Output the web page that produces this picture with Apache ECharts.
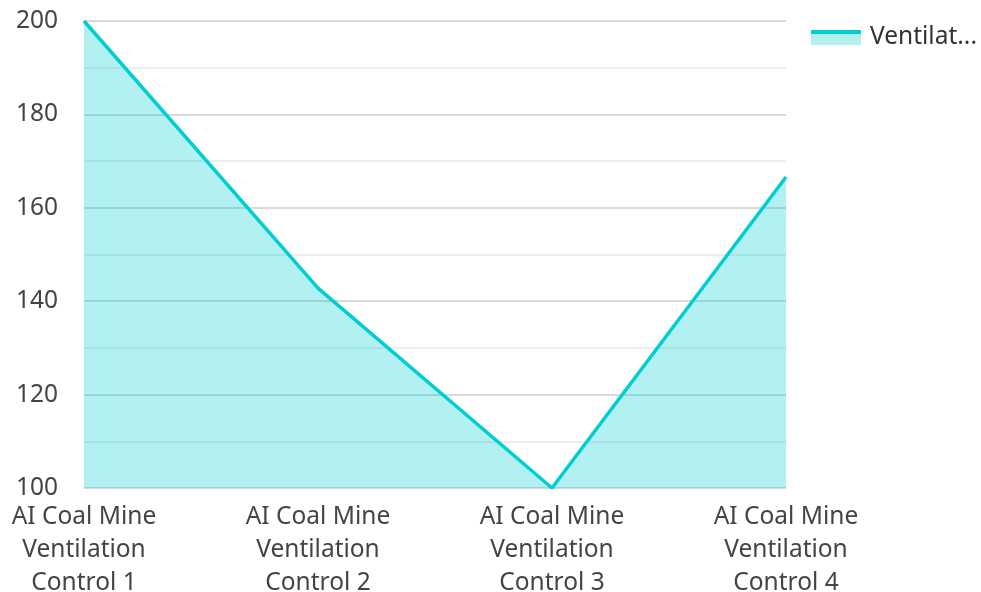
<!DOCTYPE html>
<html>
<head>
<meta charset="utf-8">
<script src="https://cdn.jsdelivr.net/npm/echarts@6/dist/echarts.min.js"></script>
<style>
  html, body { margin: 0; padding: 0; background: #fff; overflow: hidden; }
  #chart { width: 981px; height: 592px; }
</style>
</head>
<body>
<div id="chart"></div>
<script>
// Ventilation control readings per controller
const categories = [
  'AI Coal Mine Ventilation Control 1',
  'AI Coal Mine Ventilation Control 2',
  'AI Coal Mine Ventilation Control 3',
  'AI Coal Mine Ventilation Control 4'
];
const seriesName = 'Ventilation Efficiency';
const values = [200, 142.8, 100, 166.6];

const lineColor = '#00CED1';
const font = '"Noto Sans", "Open Sans", sans-serif';

const chart = echarts.init(document.getElementById('chart'));
chart.setOption({
  animation: false,
  grid: {
    left: 84, right: 195, top: 21, bottom: 104,
    containLabel: false,
    outerBoundsMode: 'none'
  },
  legend: {
    left: 806,
    top: 20,
    itemWidth: 50,
    itemHeight: 15,
    itemGap: 10,
    icon: 'rect',
    itemStyle: {
      color: {
        type: 'linear', x: 0, y: 0, x2: 0, y2: 1,
        colorStops: [
          { offset: 0, color: lineColor },
          { offset: 0.27, color: lineColor },
          { offset: 0.27, color: '#b2efef' },
          { offset: 1, color: '#b2efef' }
        ]
      },
      borderWidth: 0
    },
    lineStyle: { width: 0, opacity: 0 },
    textStyle: {
      fontFamily: font,
      fontSize: 24.5,
      color: '#333',
      width: 112,
      padding: [0, 0, 0, 4],
      overflow: 'truncate',
      ellipsis: '...'
    },
    data: [seriesName]
  },
  xAxis: {
    type: 'category',
    data: categories,
    boundaryGap: false,
    axisLine: { show: false },
    axisTick: { show: false },
    axisLabel: {
      fontFamily: font,
      fontSize: 24.5,
      color: '#444',
      lineHeight: 33,
      margin: 12.5,
      interval: 0,
      // wrap each name onto three centred lines
      formatter: (name) => name.replace(' Ventilation ', '\nVentilation\n')
    }
  },
  yAxis: {
    type: 'value',
    min: 100,
    max: 200,
    interval: 20,
    axisLine: { show: false },
    axisTick: { show: false },
    axisLabel: {
      fontFamily: font,
      fontSize: 24.5,
      color: '#444',
      margin: 26
    },
    splitLine: { lineStyle: { color: '#cccccc', width: 1.5 } },
    minorTick: { show: false, splitNumber: 2 },
    minorSplitLine: { show: true, lineStyle: { color: '#e8e8e8', width: 1.5 } }
  },
  series: [{
    name: seriesName,
    type: 'line',
    data: values,
    symbol: 'none',
    lineStyle: { color: lineColor, width: 3.5 },
    itemStyle: { color: lineColor },
    areaStyle: { color: lineColor, opacity: 0.3, origin: 'start' }
  }]
});
</script>
</body>
</html>
